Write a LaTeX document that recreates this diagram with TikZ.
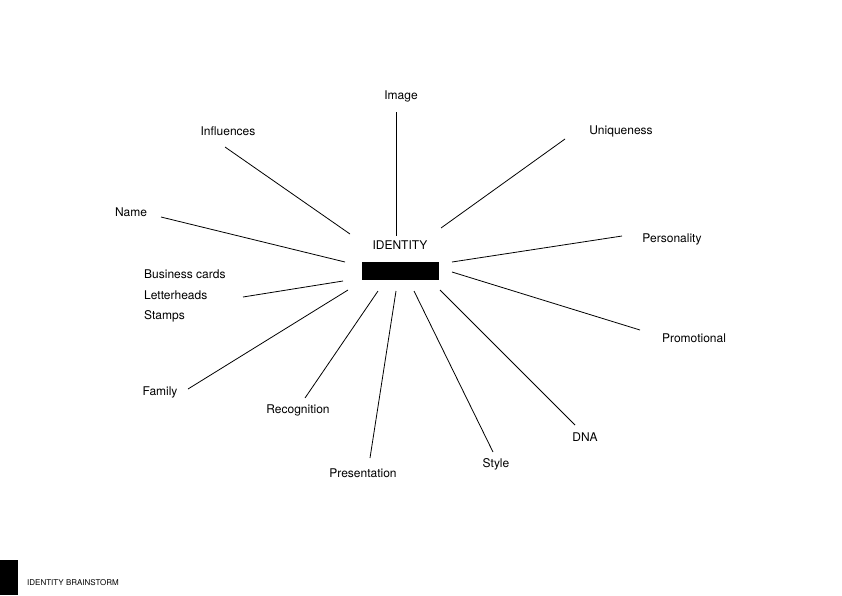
\documentclass[tikz,border=0pt]{standalone}
\usepackage{fontspec}
\setmainfont{TeX Gyre Heros}
\begin{document}
\begin{tikzpicture}[x=1pt,y=-1pt,
  lab/.style={font=\fontsize{12}{20.5}\selectfont,inner sep=0pt,align=left},
  ln/.style={line width=0.8pt}]
\useasboundingbox (0,0) rectangle (842,595);
\node[lab] (id) at (400,245) {IDENTITY};
\fill (362,262) rectangle (439,280);
\node[lab] (image) at (401,96) {Image};
\node[lab] (infl) at (228,131) {Influences};
\node[lab] (uniq) at (621,131) {Uniqueness};
\node[lab] (name) at (131,212) {Name};
\node[lab] (pers) at (672,239) {Personality};
\node[lab,anchor=west] (biz) at (144,296) {Business cards\\Letterheads\\Stamps};
\node[lab] (promo) at (694,338) {Promotional};
\node[lab] (fam) at (160,392) {Family};
\node[lab] (reco) at (298,410) {Recognition};
\node[lab] (pres) at (363,473) {Presentation};
\node[lab] (style) at (496,464) {Style};
\node[lab] (dna) at (585,437) {DNA};
\coordinate (a1) at (396,112); \coordinate (b1) at (396,236);
\coordinate (a2) at (225,147); \coordinate (b2) at (350,234);
\coordinate (a3) at (565,139); \coordinate (b3) at (441,228);
\coordinate (a4) at (161,217); \coordinate (b4) at (345,262);
\coordinate (a5) at (622,236); \coordinate (b5) at (452,262);
\coordinate (a6) at (243,297); \coordinate (b6) at (343,281);
\coordinate (a7) at (640,330); \coordinate (b7) at (452,272);
\coordinate (a8) at (188,389); \coordinate (b8) at (348,290);
\coordinate (a9) at (305,398); \coordinate (b9) at (378,291);
\coordinate (a10) at (370,458); \coordinate (b10) at (396,291);
\coordinate (a11) at (493,452); \coordinate (b11) at (414,291);
\coordinate (a12) at (575,425); \coordinate (b12) at (440,290);
\foreach \i in {1,...,12} \draw[ln] (a\i) -- (b\i);
\fill (0,560) rectangle (18,595);
\node[anchor=west,inner sep=0pt,font=\fontsize{8}{10}\selectfont] (foot) at (27,583) {IDENTITY BRAINSTORM};
\end{tikzpicture}
\end{document}
